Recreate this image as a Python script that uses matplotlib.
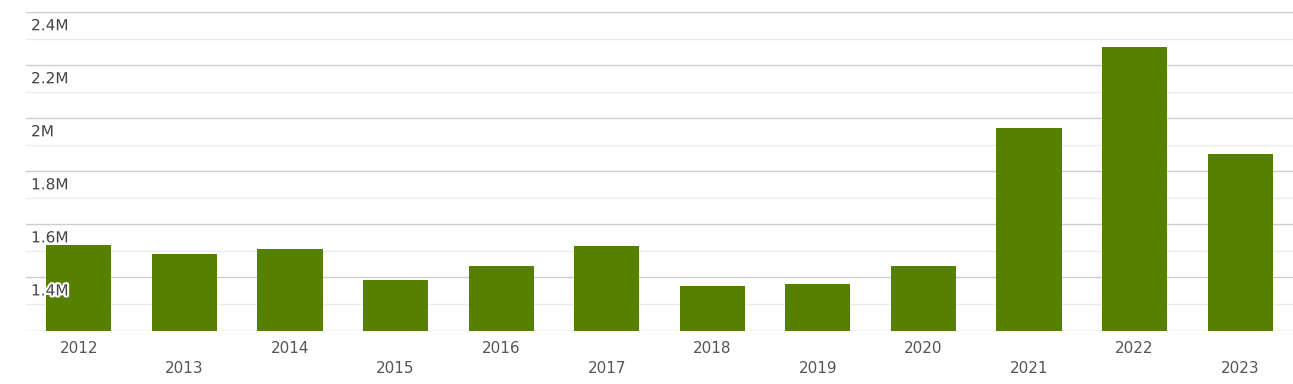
import matplotlib.pyplot as plt
import matplotlib.patheffects as pe
from matplotlib.transforms import blended_transform_factory, offset_copy
import numpy as np

years = ['2012', '2013', '2014', '2015', '2016', '2017',
         '2018', '2019', '2020', '2021', '2022', '2023']
values = [1.524, 1.487, 1.509, 1.389, 1.442, 1.517,
          1.366, 1.377, 1.445, 1.962, 2.268, 1.864]  # millions
major_ticks = [1.4, 1.6, 1.8, 2.0, 2.2, 2.4]
major_labels = ['1.4M', '1.6M', '1.8M', '2M', '2.2M', '2.4M']

fig = plt.figure(figsize=(12.93, 3.84), dpi=100)
ax = fig.add_axes([26 / 1293, (384 - 330.5) / 384, 1 - 26 / 1293, (330.5 - 12.3) / 384])

x = np.arange(len(years))
ax.bar(x, values, width=0.617, color='#558000', zorder=2)

ax.set_xlim(-0.5, len(years) - 0.5)
ax.set_ylim(1.2, 2.4)

# grid lines
for v in np.arange(1.3, 2.4, 0.2):
    ax.axhline(v, color='#ebebeb', lw=1, zorder=1)
for v in [1.2] + major_ticks:
    ax.axhline(v, color='#cccccc', lw=1, zorder=1)

for s in ax.spines.values():
    s.set_visible(False)
ax.set_xticks([])
ax.set_yticks([])

# y labels inside the plot, below each major line
ytrans = blended_transform_factory(ax.transAxes, ax.transData)
ytrans = offset_copy(ytrans, fig=fig, x=0, y=-4.3, units='points')
for v, lab in zip(major_ticks, major_labels):
    ax.text(0.004, v, lab, transform=ytrans, ha='left', va='top',
            fontsize=11, color='#444444', zorder=3,
            path_effects=[pe.withStroke(linewidth=3, foreground='white')])

# x labels staggered on two rows
xtrans = blended_transform_factory(ax.transData, ax.transAxes)
for i, yr in enumerate(years):
    dy = -7.8 if i % 2 == 0 else -22.3
    t = offset_copy(xtrans, fig=fig, x=0, y=dy, units='points')
    ax.text(i, 0, yr, transform=t, ha='center', va='top',
            fontsize=11, color='#555555')

fig.savefig('out.png', dpi=100)
